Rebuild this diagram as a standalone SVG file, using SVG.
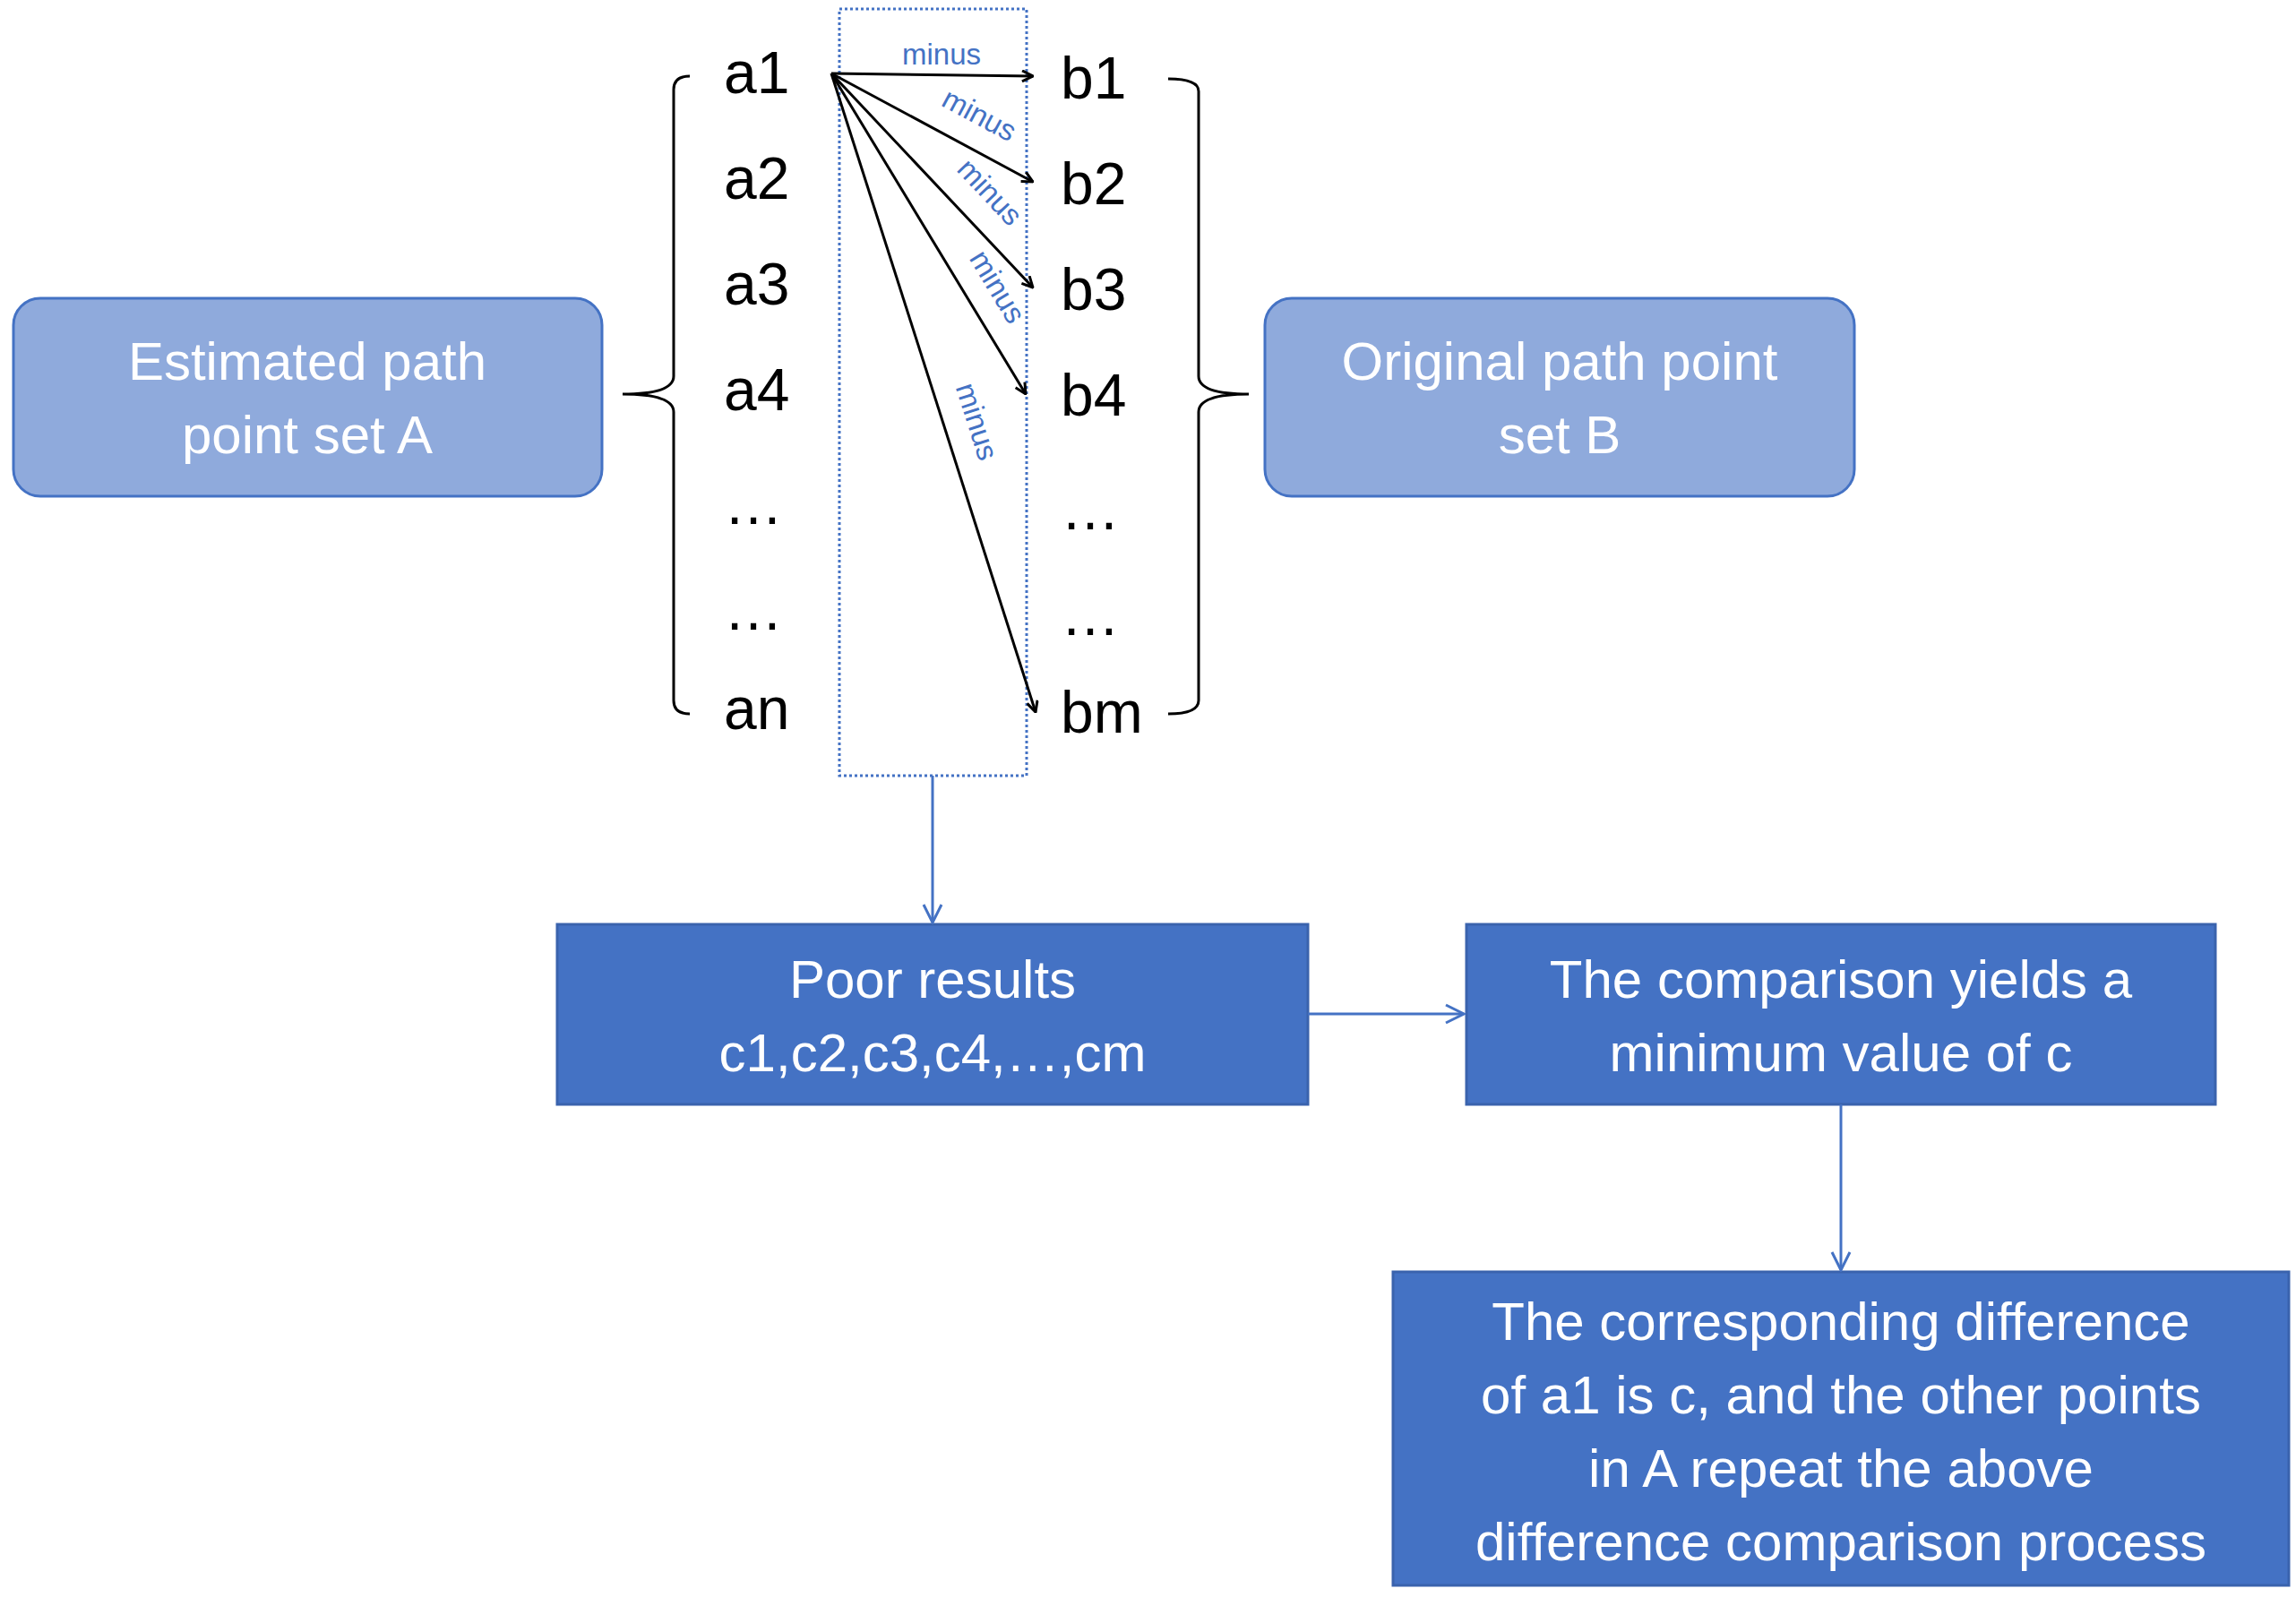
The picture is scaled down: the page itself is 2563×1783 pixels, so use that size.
<svg xmlns="http://www.w3.org/2000/svg" width="2563" height="1783" viewBox="0 0 2563 1783">
<style>
text{font-family:"Liberation Sans",Arial,sans-serif}
.lbl{font-size:66px;fill:#000}
.bt{font-size:60px;fill:#fff;text-anchor:middle}
.mn{font-size:33px;fill:#4472c4;text-anchor:middle}
.blk{stroke:#000;stroke-width:3;fill:none}
.blu{stroke:#4472c4;stroke-width:3;fill:none}
</style>
<defs>
<marker id="ak" markerWidth="14" markerHeight="14" refX="13" refY="7" orient="auto" markerUnits="userSpaceOnUse"><path d="M1,1 L13,7 L1,13" fill="none" stroke="#000" stroke-width="3"/></marker>
<marker id="ab" markerWidth="24" markerHeight="24" refX="22" refY="12" orient="auto" markerUnits="userSpaceOnUse"><path d="M2,2 L22,12 L2,22" fill="none" stroke="#4472c4" stroke-width="3"/></marker>
</defs>
<rect x="937" y="10" width="209" height="856" fill="none" stroke="#4472c4" stroke-width="3" stroke-dasharray="3,3"/>
<g id="setA">
<text class="lbl" x="808" y="104">a1</text>
<text class="lbl" x="808" y="222">a2</text>
<text class="lbl" x="808" y="340">a3</text>
<text class="lbl" x="808" y="458">a4</text>
<text class="lbl" x="808" y="585">…</text>
<text class="lbl" x="808" y="703">…</text>
<text class="lbl" x="808" y="814">an</text>
<path class="blk" d="M770,85 Q752,85 752,100 L752,420 Q752,440 695,440 Q752,440 752,460 L752,782 Q752,797 770,797"/>
</g>
<g id="setB">
<text class="lbl" x="1184" y="110">b1</text>
<text class="lbl" x="1184" y="228">b2</text>
<text class="lbl" x="1184" y="346">b3</text>
<text class="lbl" x="1184" y="464">b4</text>
<text class="lbl" x="1184" y="591">…</text>
<text class="lbl" x="1184" y="709">…</text>
<text class="lbl" x="1184" y="818">bm</text>
<path class="blk" d="M1304,88 Q1338,88 1338,102 L1338,420 Q1338,440 1394,440 Q1338,440 1338,460 L1338,782 Q1338,797 1304,797"/>
</g>
<g id="boxA">
<rect x="15" y="333" width="657" height="221" rx="30" fill="#8faadc" stroke="#4472c4" stroke-width="3"/>
<text class="bt" x="343" y="424">Estimated path</text>
<text class="bt" x="343" y="506">point set A</text>
</g>
<g id="boxB">
<rect x="1412" y="333" width="658" height="221" rx="30" fill="#8faadc" stroke="#4472c4" stroke-width="3"/>
<text class="bt" x="1741" y="424">Original path point</text>
<text class="bt" x="1741" y="506">set B</text>
</g>
<g id="poor">
<rect x="622" y="1032" width="838" height="201" fill="#4472c4" stroke="#3a63ad" stroke-width="3"/>
<text class="bt" x="1041" y="1114">Poor results</text>
<text class="bt" x="1041" y="1196">c1,c2,c3,c4,…,cm</text>
</g>
<g id="cmp">
<rect x="1637" y="1032" width="836" height="201" fill="#4472c4" stroke="#3a63ad" stroke-width="3"/>
<text class="bt" x="2055" y="1114">The comparison yields a</text>
<text class="bt" x="2055" y="1196">minimum value of c</text>
</g>
<g id="corr">
<rect x="1555" y="1420" width="1000" height="350" fill="#4472c4" stroke="#3a63ad" stroke-width="3"/>
<text class="bt" x="2055" y="1496">The corresponding difference</text>
<text class="bt" x="2055" y="1578">of a1 is c, and the other points</text>
<text class="bt" x="2055" y="1660">in A repeat the above</text>
<text class="bt" x="2055" y="1742">difference comparison process</text>
</g>
<g id="connectors">
<line class="blk" x1="928" y1="82" x2="1153" y2="85" marker-end="url(#ak)"/>
<line class="blk" x1="928" y1="82" x2="1153" y2="203" marker-end="url(#ak)"/>
<line class="blk" x1="928" y1="82" x2="1153" y2="321" marker-end="url(#ak)"/>
<line class="blk" x1="928" y1="82" x2="1145" y2="440" marker-end="url(#ak)"/>
<line class="blk" x1="928" y1="82" x2="1156" y2="795" marker-end="url(#ak)"/>
<text class="mn" x="1051" y="72">minus</text>
<text class="mn" transform="translate(1088,138) rotate(28.3)">minus</text>
<text class="mn" transform="translate(1097,222) rotate(46.7)">minus</text>
<text class="mn" transform="translate(1104,326) rotate(58.8)">minus</text>
<text class="mn" transform="translate(1080,474) rotate(72.3)">minus</text>
<line class="blu" x1="1041" y1="866" x2="1041" y2="1030" marker-end="url(#ab)"/>
<line class="blu" x1="1460" y1="1132" x2="1634" y2="1132" marker-end="url(#ab)"/>
<line class="blu" x1="2055" y1="1233" x2="2055" y2="1418" marker-end="url(#ab)"/>
</g>
</svg>
